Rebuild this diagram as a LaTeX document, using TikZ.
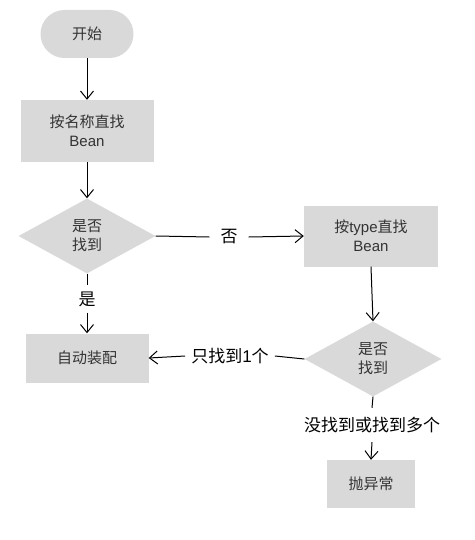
\documentclass[tikz,border=0pt]{standalone}
\usepackage{fontspec}
\setmainfont{Liberation Sans}
\newfontfamily\cjk{Noto Sans CJK SC}
\usetikzlibrary{shapes.geometric,arrows.meta}

\definecolor{boxgray}{RGB}{217,217,217}
\tikzset{
  flowline/.style = {line width=1pt, black},
  flowarrow/.style = {flowline, -{Straight Barb[length=8pt,width=13pt,line width=1pt]}},
  stepbox/.style = {fill=boxgray, draw=none, align=center, text=black!80,
    font=\fontsize{15}{19}\selectfont, inner sep=0pt},
  startbox/.style = {stepbox, rounded corners=24pt, minimum width=93pt, minimum height=48pt},
  decision/.style = {diamond, stepbox, minimum width=137pt, minimum height=75pt},
  edgelabel/.style = {font=\fontsize{17}{20}\selectfont, inner sep=6pt}
}

\begin{document}
\begin{tikzpicture}[x=1pt, y=-1pt]
\useasboundingbox (0,0) rectangle (474,540);
% boxes
\node[startbox] (start) at (87,34) {\cjk 开始};
\node[stepbox, minimum width=133pt, minimum height=62pt] (byname) at (87,131) {{\cjk 按名称直找}\\Bean};
\node[decision] (found1) at (87,236) {\cjk 是否\\\cjk 找到};
\node[stepbox, minimum width=123pt, minimum height=49pt] (autowire) at (87,358) {\cjk 自动装配};
\node[stepbox, minimum width=134pt, minimum height=61pt] (bytype) at (371,236) {{\cjk 按}type{\cjk 直找}\\Bean};
\node[decision] (found2) at (373,359) {\cjk 是否\\\cjk 找到};
\node[stepbox, minimum width=88pt, minimum height=48pt] (throw) at (371,484) {\cjk 抛异常};
% labels
\node[edgelabel] (yes) at (87,299) {\cjk 是};
\node[edgelabel, inner sep=11pt] (no) at (229,237) {\cjk 否};
\node[edgelabel] (onlyone) at (230,356) {{\cjk 只找到}1{\cjk 个}};
\node[edgelabel, inner sep=9pt] (many) at (372,425) {\cjk 没找到或找到多个};
% connectors
\draw[flowarrow] (start) -- (byname);
\draw[flowarrow] (byname) -- (found1);
\draw[flowline] (found1.south) -- (yes.north);
\draw[flowarrow] (yes.south) -- (autowire.north);
\draw[flowline] (found1.east) -- (no.west);
\draw[flowarrow] (no.east) -- (bytype.west);
\draw[flowarrow] (bytype.south) -- (found2.north);
\draw[flowline] (found2.west) -- (onlyone.east);
\draw[flowarrow] (onlyone.west) -- (autowire.east);
\draw[flowline] (found2.south) -- (many.north);
\draw[flowarrow] (many.south) -- (throw.north);
\end{tikzpicture}
\end{document}
